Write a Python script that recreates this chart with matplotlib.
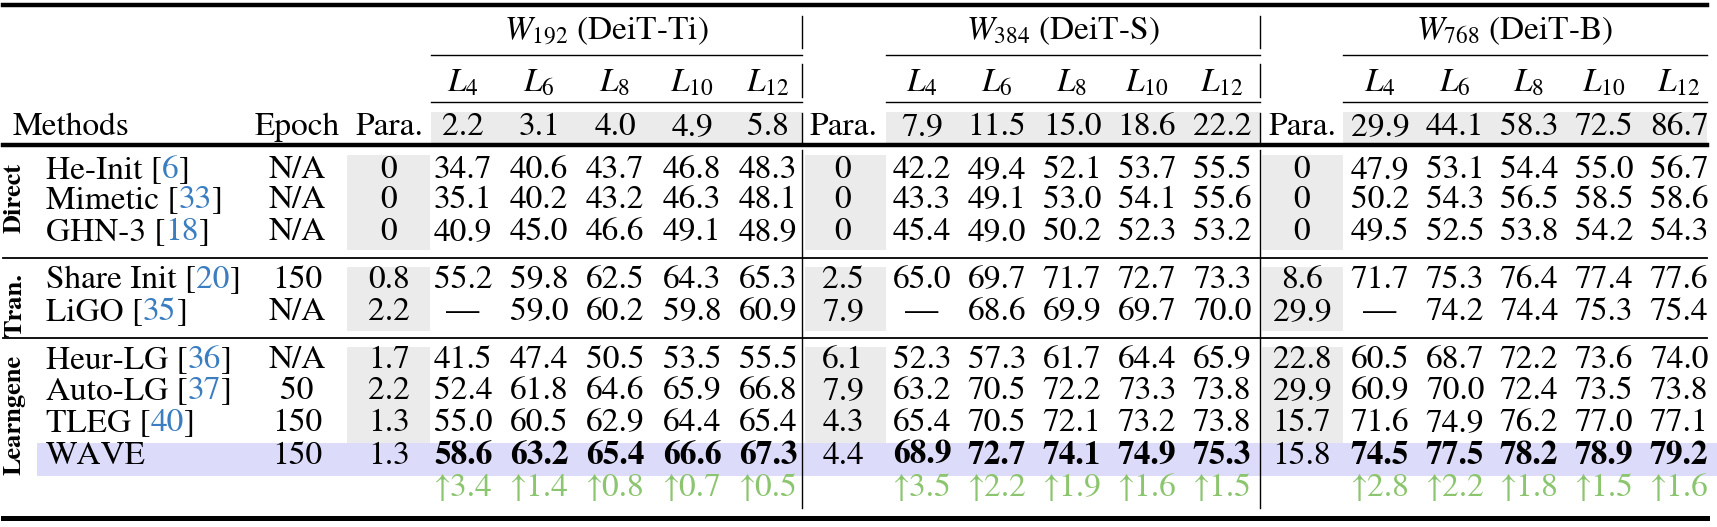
import matplotlib
matplotlib.use('Agg')
import matplotlib.pyplot as plt
from matplotlib.patches import Rectangle

plt.rcParams['font.family'] = ['STIXGeneral', 'DejaVu Serif']
plt.rcParams['mathtext.fontset'] = 'stix'

#
# Table data
#

groups = ['Direct', 'Tran.', 'Learngene']
methods = ['He-Init', 'Mimetic', 'GHN-3', 'Share Init', 'LiGO',
           'Heur-LG', 'Auto-LG', 'TLEG', 'WAVE']
cites = ['6', '33', '18', '20', '35', '36', '37', '40', None]
epochs = ['N/A', 'N/A', 'N/A', '150', 'N/A', 'N/A', '50', '150', '150']

widths = [r'$W_{192}$ (DeiT-Ti)', r'$W_{384}$ (DeiT-S)', r'$W_{768}$ (DeiT-B)']
depths = [r'$L_{4}$', r'$L_{6}$', r'$L_{8}$', r'$L_{10}$', r'$L_{12}$']
model_para = [['2.2', '3.1', '4.0', '4.9', '5.8'],
              ['7.9', '11.5', '15.0', '18.6', '22.2'],
              ['29.9', '44.1', '58.3', '72.5', '86.7']]

para_ti = ['0', '0', '0', '0.8', '2.2', '1.7', '2.2', '1.3', '1.3']
para_s = ['0', '0', '0', '2.5', '7.9', '6.1', '7.9', '4.3', '4.4']
para_b = ['0', '0', '0', '8.6', '29.9', '22.8', '29.9', '15.7', '15.8']

acc_ti = [['34.7', '40.6', '43.7', '46.8', '48.3'],
          ['35.1', '40.2', '43.2', '46.3', '48.1'],
          ['40.9', '45.0', '46.6', '49.1', '48.9'],
          ['55.2', '59.8', '62.5', '64.3', '65.3'],
          ['—', '59.0', '60.2', '59.8', '60.9'],
          ['41.5', '47.4', '50.5', '53.5', '55.5'],
          ['52.4', '61.8', '64.6', '65.9', '66.8'],
          ['55.0', '60.5', '62.9', '64.4', '65.4'],
          ['58.6', '63.2', '65.4', '66.6', '67.3']]
acc_s = [['42.2', '49.4', '52.1', '53.7', '55.5'],
         ['43.3', '49.1', '53.0', '54.1', '55.6'],
         ['45.4', '49.0', '50.2', '52.3', '53.2'],
         ['65.0', '69.7', '71.7', '72.7', '73.3'],
         ['—', '68.6', '69.9', '69.7', '70.0'],
         ['52.3', '57.3', '61.7', '64.4', '65.9'],
         ['63.2', '70.5', '72.2', '73.3', '73.8'],
         ['65.4', '70.5', '72.1', '73.2', '73.8'],
         ['68.9', '72.7', '74.1', '74.9', '75.3']]
acc_b = [['47.9', '53.1', '54.4', '55.0', '56.7'],
         ['50.2', '54.3', '56.5', '58.5', '58.6'],
         ['49.5', '52.5', '53.8', '54.2', '54.3'],
         ['71.7', '75.3', '76.4', '77.4', '77.6'],
         ['—', '74.2', '74.4', '75.3', '75.4'],
         ['60.5', '68.7', '72.2', '73.6', '74.0'],
         ['60.9', '70.0', '72.4', '73.5', '73.8'],
         ['71.6', '74.9', '76.2', '77.0', '77.1'],
         ['74.5', '77.5', '78.2', '78.9', '79.2']]
gains = [['3.4', '1.4', '0.8', '0.7', '0.5'],
         ['3.5', '2.2', '1.9', '1.6', '1.5'],
         ['2.8', '2.2', '1.8', '1.5', '1.6']]

#
# Layout (pixels)
#

FS = 24
GRAY = '#ebebeb'
LAVENDER = '#dcdcfa'
BLUE = '#3a7dc0'
GREEN = '#8cc56f'

col_x = [[463, 539, 615, 692, 768],
         [922, 997, 1072, 1147, 1222],
         [1380, 1455, 1529, 1604, 1679]]
para_x = [389, 843, 1302]
para_box = [(347, 430), (805, 886), (1262, 1343)]
group_span = [(431, 802), (886, 1260), (1343, 1707)]
group_label_y = [198, 305, 415]
sep_x = [802, 1260]
row_y = [170, 200, 232, 280, 312, 360, 391, 423, 456]
gain_y = 488
head_y = [31, 83, 127]
OFF = 8  # center -> baseline

fig = plt.figure(figsize=(17.17, 5.27), dpi=100)
ax = fig.add_axes([0, 0, 1, 1])
ax.set_xlim(0, 1717)
ax.set_ylim(527, 0)
ax.axis('off')
renderer = fig.canvas.get_renderer()


def put(x, y, s, ha='center', **kw):
    return ax.text(x, y + OFF, s, ha=ha, va='baseline', fontsize=FS, **kw)


# backgrounds
ax.add_patch(Rectangle((37, 443), 1680, 33, color=LAVENDER, lw=0))
for x0, x1 in group_span:
    ax.add_patch(Rectangle((x0, 112), x1 - x0, 32, color=GRAY, lw=0))
for x0, x1 in para_box:
    for y0, y1 in [(155, 250), (267, 331), (347, 443)]:
        ax.add_patch(Rectangle((x0, y0), x1 - x0, y1 - y0, color=GRAY, lw=0))

# rules
ax.plot([3, 1707], [5, 5], color='k', lw=3.2)
ax.plot([3, 1707], [145, 145], color='k', lw=3.2)
ax.plot([3, 1707], [518, 518], color='k', lw=3.6)
for y in [258, 338]:
    ax.plot([3, 1707], [y, y], color='k', lw=1.3)
for x0, x1 in group_span:
    for y in [55, 102]:
        ax.plot([x0, x1], [y, y], color='k', lw=1.0)
for x in sep_x:
    for y0, y1 in [(16, 48), (64, 97), (113, 143), (150, 508)]:
        ax.plot([x, x], [y0, y1], color='k', lw=1.0)

# header
for g in range(3):
    x0, x1 = group_span[g]
    put((x0 + x1) / 2 - 10, head_y[0], widths[g])
    for j in range(5):
        put(col_x[g][j], head_y[1], depths[j])
        put(col_x[g][j], head_y[2], model_para[g][j])
    put(para_x[g], head_y[2], 'Para.')
put(13, head_y[2], 'Methods', ha='left')
put(297, head_y[2], 'Epoch')

# group labels
for name, yc in zip(groups, group_label_y):
    ax.text(15, yc, name, rotation=90, ha='center', va='center',
            fontsize=19, fontweight='bold')

# body
accs = [acc_ti, acc_s, acc_b]
paras = [para_ti, para_s, para_b]
for i, name in enumerate(methods):
    y = row_y[i]
    t = put(46, y, name + (' [' if cites[i] else ''), ha='left')
    if cites[i]:
        x = 46 + t.get_window_extent(renderer).width
        t2 = put(x, y, cites[i], ha='left', color=BLUE)
        x += t2.get_window_extent(renderer).width
        put(x, y, ']', ha='left')
    put(297, y, epochs[i])
    bold = name == 'WAVE'
    for g in range(3):
        put(para_x[g], y, paras[g][i])
        for j in range(5):
            put(col_x[g][j], y, accs[g][i][j],
                fontweight='bold' if bold else 'normal')

for g in range(3):
    for j in range(5):
        put(col_x[g][j], gain_y, '↑' + gains[g][j], color=GREEN)

plt.savefig('out.png', dpi=100)
